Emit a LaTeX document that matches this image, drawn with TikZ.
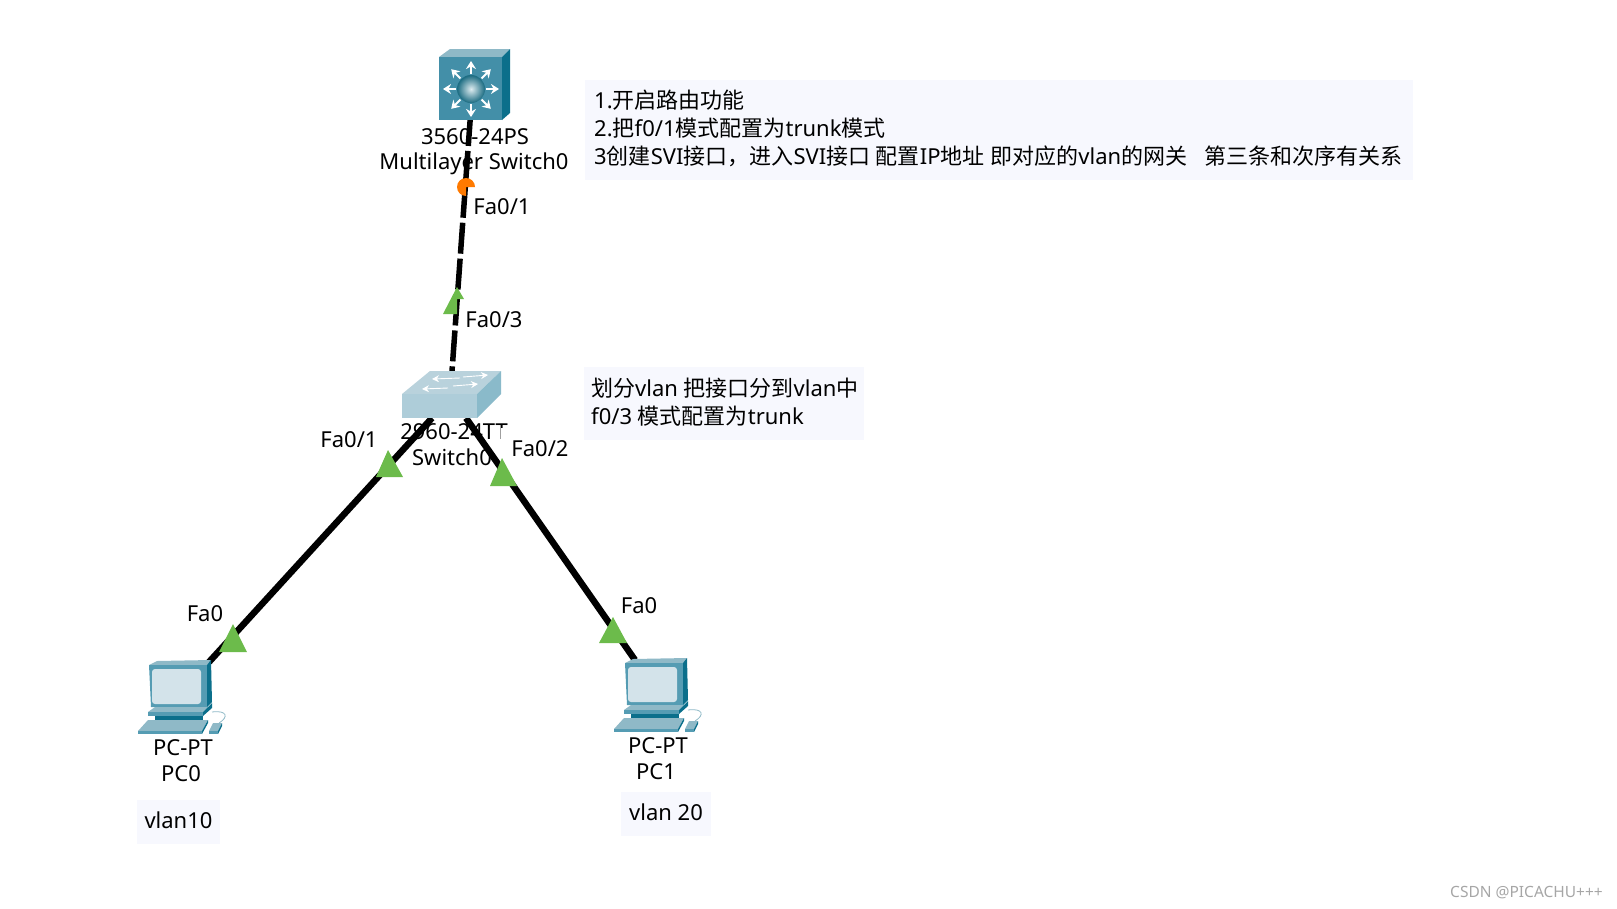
\documentclass[tikz,border=0pt]{standalone}
\usepackage{fontspec}
\setmainfont{Noto Sans}
\newfontfamily\cjk{Noto Sans CJK SC}
\usetikzlibrary{arrows.meta}

\definecolor{notebg}{HTML}{F7F8FE}
\definecolor{portgreen}{HTML}{6CBB4B}
\definecolor{portorange}{HTML}{FF7A00}
\definecolor{pcfront}{HTML}{559CB3}
\definecolor{pctop}{HTML}{8FB9C7}
\definecolor{pcside}{HTML}{0B6F8B}
\definecolor{pcscreen}{HTML}{D3E3EA}
\definecolor{mlfront}{HTML}{438FA8}
\definecolor{mlball}{HTML}{1F7E98}
\definecolor{swfront}{HTML}{AECDD9}
\definecolor{swtop}{HTML}{B9D2DC}
\definecolor{swside}{HTML}{8ABACA}

\tikzset{
    lbl/.style={inner sep=0pt, font=\fontsize{22}{28}\selectfont},
    note/.style={anchor=west, align=left, inner sep=0pt, font=\fontsize{22}{28}\selectfont},
    trunklink/.style={line width=5.5pt, dash pattern=on 31pt off 5pt},
    accesslink/.style={line width=6.5pt},
    portup/.style={fill=portgreen},
    mlarrow/.style={draw=white, line width=2pt, -{Stealth[length=8pt,width=10pt]}},
    swarrow/.style={draw=white, line width=0.9pt, -{Stealth[length=7pt,width=7pt]}},
    pics/pcicon/.style={code={
        % monitor
        \fill[pctop] (0,0) -- (8,-4) -- (62,-5) -- (58,0) -- cycle;
        \fill[pcfront] (0,0) -- (58,0) -- (58,42) -- (2,42) -- cycle;
        \fill[pcside] (58,0) -- (62,-5) -- (63,37) -- (58,42) -- cycle;
        \fill[pcscreen, rounded corners=3pt] (3,4) rectangle (52,39);
        % stand
        \fill[pctop] (-1,47) -- (6,42) -- (59,42) -- (54,47) -- cycle;
        \fill[pcfront] (-1,47) rectangle (54,51);
        \fill[pcside] (6,51) rectangle (54,55);
        \fill[pcside] (54,47) -- (63,38) -- (63,43) -- (54,51) -- cycle;
        % keyboard and mouse
        \fill[pctop] (-11,66) -- (-1,55) -- (59,55) -- (53,66) -- cycle;
        \fill[pcfront] (-11,66) rectangle (53,69);
        \fill[pcside] (53,66) -- (59,55) -- (59,58) -- (53,69) -- cycle;
        \fill[pctop] (60,66) -- (64,58) -- (73,58) -- (69,66) -- cycle;
        \fill[pcfront] (60,66) rectangle (69,69);
        \fill[pcside] (69,66) -- (73,58) -- (73,61) -- (69,69) -- cycle;
        \draw[pctop, line width=0.8pt] (63,47) .. controls (78,45) and (80,52) .. (70,58);
    }}
}

\begin{document}
\begin{tikzpicture}[x=1pt, y=-1pt, line join=round]
    \useasboundingbox (0,0) rectangle (1617,908);

    % --- COORDINATES ---
    \coordinate (mlsw) at (470.5,115);
    \coordinate (swup) at (452,371);
    \coordinate (swleft) at (432,418);
    \coordinate (swright) at (466,418);
    \coordinate (pc0) at (209,662);
    \coordinate (pc1) at (635,660);

    % --- NOTES ---
    \fill[notebg] (585,80) rectangle (1413,180);
    \fill[notebg] (584,367) rectangle (864,440);
    \fill[notebg] (137,800) rectangle (220,844);
    \fill[notebg] (621,792) rectangle (711,836);
    \node[note] (noteml) at (594,128)
        {1.{\cjk 开启路由功能}\\2.{\cjk 把}f0/1{\cjk 模式配置为}trunk{\cjk 模式}\\3{\cjk 创建}SVI{\cjk 接口，进入}SVI{\cjk 接口} {\cjk 配置}IP{\cjk 地址} {\cjk 即对应的}vlan{\cjk 的网关}\ \ \ {\cjk 第三条和次序有关系}};
    \node[note] (notesw) at (591,402)
        {{\cjk 划分}vlan {\cjk 把接口分到}vlan{\cjk 中}\\f0/3 {\cjk 模式配置为}trunk};
    \node[lbl] (vlanten) at (178.5,820) {vlan10};
    \node[lbl] (vlantwenty) at (666,812) {vlan 20};

    % --- DEVICE LABELS ---
    \node[lbl] (mlmodel) at (475,137) {3560-24PS};
    \node[lbl] (mlname) at (474,164) {Multilayer Switch0};
    \node[lbl] (swmodel) at (454,432) {2960-24TT};
    \node[lbl] (swname) at (452,457) {Switch0};
    \node[lbl] (pc0model) at (183,748) {PC-PT};
    \node[lbl] (pc0name) at (181,774) {PC0};
    \node[lbl] (pc1model) at (658,746) {PC-PT};
    \node[lbl] (pc1name) at (656,772) {PC1};

    % white corner of the Fa0/2 port mark hides part of the model text
    \fill[white] (501,428) rectangle (515,446);

    % --- PORT LABELS ---
    \node[lbl] (mlport) at (502,207) {Fa0/1};
    \node[lbl] (swportup) at (494,320) {Fa0/3};
    \node[lbl] (swportl) at (349,440) {Fa0/1};
    \node[lbl] (swportr) at (540,449) {Fa0/2};
    \node[lbl] (pc0port) at (205,614) {Fa0};
    \node[lbl] (pc1port) at (639,606) {Fa0};

    % --- LINKS ---
    \draw[trunklink] (mlsw) -- (swup);
    \draw[accesslink] (pc0) -- (swleft);
    \draw[accesslink] (pc1) -- (swright);

    % --- PORT MARKS ---
    % Orange circle has its lower right quarter cut away, as has the green triangle
    \fill[portorange] (466,187) -- ++(9pt,0pt) arc (0:270:9pt) -- cycle;
    \fill[portup] (457,287) -- (464,299) -- (457,299) -- (457,314) -- (443,314) -- cycle;
    \fill[portup] (388,450) -- (403,477) -- (376,477) -- cycle;
    \fill[portup] (502,458) -- (517,486) -- (490,486) -- cycle;
    \fill[portup] (233,624) -- (247,652) -- (219,652) -- cycle;
    \fill[portup] (613,617) -- (627,643) -- (599,643) -- cycle;

    % --- MULTILAYER SWITCH ---
    \fill[pctop] (439,57) -- (450,49) -- (510,49) -- (502,57) -- cycle;
    \fill[mlfront] (439,57) rectangle (502,120);
    \fill[pcside] (502,57) -- (510,49) -- (510,113) -- (502,120) -- cycle;
    \begin{scope}[shift={(471,89)}]
        \foreach \ang in {0,45,...,315}
            \draw[mlarrow] (\ang:15) -- (\ang:28);
        \shade[inner color=white!85!mlball, outer color=mlball!85!black] (0,0) circle (14pt);
    \end{scope}

    % --- SWITCH ---
    \fill[swtop] (402,394) -- (430,371) -- (501,371) -- (477,394) -- cycle;
    \fill[swfront] (402,394) rectangle (477,418);
    \fill[swside] (477,394) -- (501,371) -- (501,394) -- (477,418) -- cycle;
    \draw[swarrow] (460,378) -- (432,379);
    \draw[swarrow] (463,377) -- (488,375);
    \draw[swarrow] (448,388) -- (422,389);
    \draw[swarrow] (453,386) -- (478,384);

    % --- PCS ---
    \pic at (149,665) {pcicon};
    \pic at (625,663) {pcicon};

    % --- WATERMARK ---
    \node[inner sep=0pt, text=black!35, font=\fontsize{15.5}{18}\selectfont] (mark) at (1526.5,893) {CSDN @PICACHU+++};
\end{tikzpicture}
\end{document}
